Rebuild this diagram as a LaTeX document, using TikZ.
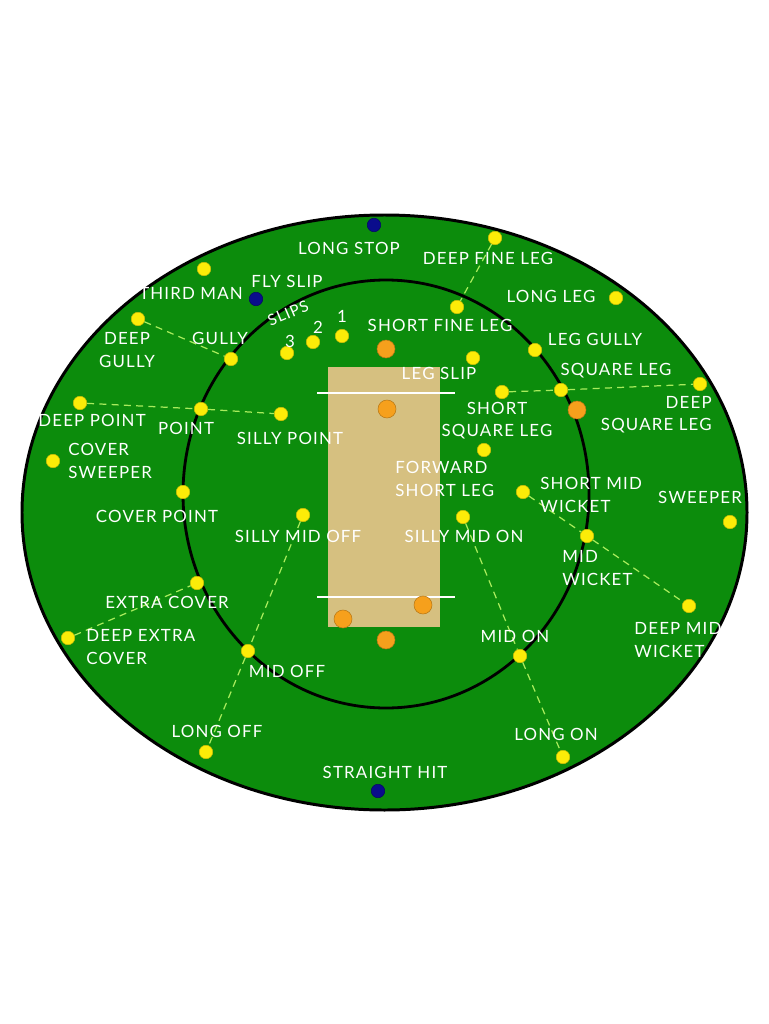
\documentclass[tikz,border=0pt]{standalone}
\usepackage{fontspec}
\setmainfont{Lato}[LetterSpace=7]
\usepackage{xcolor}
\usepackage{tikz}
\usetikzlibrary{calc}
\definecolor{fieldgreen}{RGB}{12,140,12}
\definecolor{pitchtan}{RGB}{214,192,128}
\definecolor{dotyellow}{RGB}{252,236,8}
\definecolor{dotorange}{RGB}{246,160,28}
\definecolor{dotblue}{RGB}{10,12,140}
\definecolor{linkgreen}{RGB}{168,236,92}
\tikzset{
  fielder/.style={circle, inner sep=0pt, minimum size=0.27cm,
    fill=dotyellow, draw=dotyellow!80!black, line width=0.3pt},
  keeper/.style={fielder, minimum size=0.36cm,
    fill=dotorange, draw=dotorange!75!black},
  deepblue/.style={fielder, fill=dotblue, draw=dotblue!70!black},
  lbl/.style={text=white, inner sep=0pt,
    font=\fontsize{9.6}{12.6}\selectfont},
  link/.style={linkgreen, line width=0.7pt, dash pattern=on 4pt off 3pt}
}
\begin{document}
\begin{tikzpicture}[x=0.02cm, y=-0.02cm]
% Cricket field positions, drawn in the 768x1024 pixel frame of the
% page (y runs downward). Outer oval = boundary, inner ring = the
% 30-yard circle, tan strip = pitch with its two creases.
\useasboundingbox[fill=white] (0,0) rectangle (768,1024);
% boundary and inner ring
\draw[fill=fieldgreen, line width=1.7pt] (384.5,512.5) ellipse [x radius=362.5, y radius=297.5];
\draw[line width=1.6pt] (386,494) ellipse [x radius=203, y radius=214];
% pitch and creases
\fill[pitchtan] (328,367) rectangle (440,627);
\draw[white, line width=1.2pt] (317,393) -- (455,393);
\draw[white, line width=1.2pt] (317,597) -- (455,597);
% fielders (yellow)
\foreach \n/\x/\y in {dfl/495/238, tm/204/269, ll/616/298, sfl/457/307,
    dg/138/319, g/231/359, sa/342/336, sb/313/342, sc/287/353,
    ls/473/358, lg/535/350, sql/561/390, dsl/700/384, ssl/502/392,
    dp/80/403, pt/201/409, sp/281/414, cs/53/461, fsl/484/450,
    smw/523/492, sw/730/522, cp/183/492, smo/303/515, smon/463/517,
    mw/587/536, ec/197/583, dec/68/638, mon/520/656, dmw/689/606,
    mof/248/651, lof/206/752, lon/563/757}
  \node[fielder] (\n) at (\x,\y) {};
% positions that are rarely used (blue)
\foreach \n/\x/\y in {lst/374/225, fs/256/299, sh/378/791}
  \node[deepblue] (\n) at (\x,\y) {};
% keeper, bowler, batsmen, umpires (orange)
\foreach \n/\x/\y in {wk/386/349, bat/387/409, bwl/343/619,
    nsb/423/605, ump/386/640, sqump/577/410}
  \node[keeper] (\n) at (\x,\y) {};
% dashed links: same line, further out
\draw[link] (dfl) -- (sfl);
\draw[link] (dg) -- (g);
\draw[link] (dp) -- (pt) -- (sp);
\draw[link] (ssl) -- (sql) -- (dsl);
\draw[link] (smw) -- (mw) -- (dmw);
\draw[link] (dec) -- (ec);
\draw[link] (smo) -- (mof) -- (lof);
\draw[link] (smon) -- (mon) -- (lon);
% one-line labels
\foreach \n/\x/\y/\t in {lst/349/248/LONG STOP, dfl/488/258/DEEP FINE LEG,
    tm/191/293/THIRD MAN, fs/287/281/FLY SLIP, ll/551/296/LONG LEG,
    sfl/440/325/SHORT FINE LEG, g/220/338/GULLY, sa/342/316/1,
    sb/318/327/2, sc/290/341/3, ls/439/373/LEG SLIP,
    lg/595/339/LEG GULLY, sql/616/371/SQUARE LEG,
    dp/92/420/DEEP POINT, pt/186/428/POINT, sp/290/438/SILLY POINT,
    sw/700/497/SWEEPER, cp/157/516/COVER POINT,
    smo/298/536/SILLY MID OFF, smon/464/536/SILLY MID ON,
    ec/167/602/EXTRA COVER, mon/515/636/MID ON, mof/287/671/MID OFF,
    lof/217/731/LONG OFF, lon/556/734/LONG ON, sh/385/772/STRAIGHT HIT}
  \node[lbl] (\n-l) at (\x,\y) {\t};
\node[lbl, rotate=23, font=\fontsize{8.8}{10}\selectfont] (slips-l) at (288,313) {SLIPS};
% two-line labels
\node[lbl, align=center] (dg-l) at (127,350) {DEEP\\GULLY};
\node[lbl, align=right, anchor=east] (dsl-l) at (712,415) {DEEP\\SQUARE LEG};
\node[lbl, align=center] (ssl-l) at (497,421) {SHORT\\SQUARE LEG};
\node[lbl, align=left, anchor=west] (cs-l) at (68,461) {COVER\\SWEEPER};
\node[lbl, align=left, anchor=west] (fsl-l) at (395,479) {FORWARD\\SHORT LEG};
\node[lbl, align=left, anchor=west] (smw-l) at (540,495) {SHORT MID\\WICKET};
\node[lbl, align=left, anchor=west] (mw-l) at (562,568) {MID\\WICKET};
\node[lbl, align=left, anchor=west] (dec-l) at (86,647) {DEEP EXTRA\\COVER};
\node[lbl, align=left, anchor=west] (dmw-l) at (634,640) {DEEP MID\\WICKET};
\end{tikzpicture}
\end{document}
